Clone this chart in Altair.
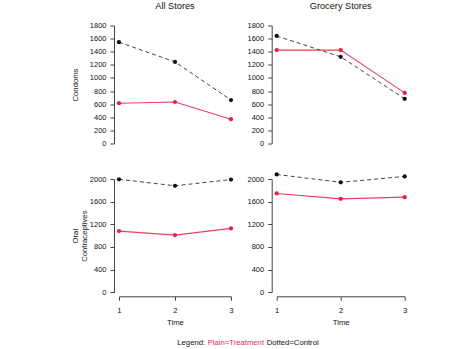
import altair as alt
import pandas as pd

FONT = "Liberation Sans"

times = [1, 2, 3]
# Condoms
all_condoms_treatment = [615, 633, 370]
all_condoms_control = [1545, 1245, 663]
groc_condoms_treatment = [1425, 1425, 772]
groc_condoms_control = [1640, 1322, 682]
# Oral contraceptives
all_oc_treatment = [1080, 1010, 1128]
all_oc_control = [1995, 1880, 1990]
groc_oc_treatment = [1745, 1650, 1680]
groc_oc_control = [2080, 1942, 2045]

condom_ticks = [0, 200, 400, 600, 800, 1000, 1200, 1400, 1600, 1800]
oc_ticks = [0, 400, 800, 1200, 1600, 2000]

legend_parts = ["Legend:", "Plain=Treatment", "Dotted=Control"]
legend_colors = ["#111111", "#ee2a55", "#111111"]

RED_LINE = "#ee3b5f"
RED_PT = "#e81f3e"
BLACK = "#111111"


def make_df(treat, ctrl):
    rows = []
    for t, v in zip(times, treat):
        rows.append({"time": t, "value": v, "group": "Treatment"})
    for t, v in zip(times, ctrl):
        rows.append({"time": t, "value": v, "group": "Control"})
    return pd.DataFrame(rows)


def panel(df, width, height, ymax, yvals, title=None, ytitle=None, show_x=False, extra=None):
    xscale = alt.Scale(type="point", domain=times, padding=0)
    if show_x:
        xaxis = alt.Axis(title="Time", offset=4, labelAngle=0,
                         tickSize=4, labelPadding=6, titlePadding=4,
                         labelOverlap=False, labelFlush=False,
                         labelFontSize=7.7, titleFontSize=7.7, grid=False,
                         domainColor="#444444", tickColor="#444444",
                         labelColor=BLACK, titleColor=BLACK,
                         labelFont=FONT, titleFont=FONT, titleFontWeight="normal")
        xenc = alt.X("time:O", scale=xscale, axis=xaxis)
    else:
        xenc = alt.X("time:O", scale=xscale, axis=None)

    yaxis_kwargs = dict(values=yvals, format="d", offset=5, tickSize=4, labelPadding=4,
                        labelOverlap=False, labelFlush=False,
                        labelFontSize=7.5, grid=False, domainColor="#444444",
                        tickColor="#444444", labelColor=BLACK, labelFont=FONT)
    if ytitle is not None:
        yaxis_kwargs.update(title=ytitle, titleFontSize=7.7, titleFont=FONT,
                            titleFontWeight="normal", titleColor=BLACK,
                            titleX=-39, titleY=height / 2, titleAngle=270,
                            titleBaseline="middle", titleAlign="center",
                            titleLineHeight=9)
    else:
        yaxis_kwargs.update(title=None)
    yenc = alt.Y("value:Q", scale=alt.Scale(domain=[0, ymax], nice=False, zero=True),
                 axis=alt.Axis(**yaxis_kwargs))

    base = alt.Chart(df).encode(x=xenc, y=yenc)
    treat_line = base.transform_filter(alt.datum.group == "Treatment").mark_line(
        color=RED_LINE, strokeWidth=1.1)
    ctrl_line = base.transform_filter(alt.datum.group == "Control").mark_line(
        color="#444444", strokeWidth=1, strokeDash=[4, 3])
    treat_pts = base.transform_filter(alt.datum.group == "Treatment").mark_point(
        filled=True, color=RED_PT, size=18, opacity=1)
    ctrl_pts = base.transform_filter(alt.datum.group == "Control").mark_point(
        filled=True, color=BLACK, size=18, opacity=1)
    layers = [treat_line, ctrl_line, treat_pts, ctrl_pts]
    if extra is not None:
        layers += extra
    props = dict(width=width, height=height)
    if title is not None:
        props["title"] = alt.TitleParams(title, anchor="middle", frame="group",
                                         fontSize=9.2, font=FONT, fontWeight="normal",
                                         color=BLACK, baseline="bottom", offset=1.5)
    return alt.layer(*layers).properties(**props)


legend_xs = [58.3, 88.7, 147.7]
legend_layers = []
for part, col, lx in zip(legend_parts, legend_colors, legend_xs):
    legend_layers.append(
        alt.Chart(pd.DataFrame({"t": [part]})).mark_text(
            align="left", baseline="middle", fontSize=7.7, font=FONT, color=col
        ).encode(text="t:N", x=alt.value(lx), y=alt.value(163.7))
    )

TOP_H = 118
BOT_H = 113.3
LW = 112
RW = 128

tl = panel(make_df(all_condoms_treatment, all_condoms_control), LW, TOP_H, 1800, condom_ticks,
           title="All Stores", ytitle="Condoms")
tr = panel(make_df(groc_condoms_treatment, groc_condoms_control), RW, TOP_H, 1800, condom_ticks,
           title="Grocery Stores")
bl = panel(make_df(all_oc_treatment, all_oc_control), LW, BOT_H, 2000, oc_ticks,
           ytitle=["Oral", "Contraceptives"], show_x=True, extra=legend_layers)
br = panel(make_df(groc_oc_treatment, groc_oc_control), RW, BOT_H, 2000, oc_ticks, show_x=True)

chart = alt.concat(tl, tr, bl, br, columns=2, spacing={"row": 35.5, "column": 45.7},
                   bounds="flush", align="each").properties(
    padding={"left": 70, "top": 1.5, "right": 5, "bottom": 2},
    background="white",
).configure_view(strokeOpacity=0)

chart.save("out.html", embed_options={"renderer": "svg", "actions": False})
